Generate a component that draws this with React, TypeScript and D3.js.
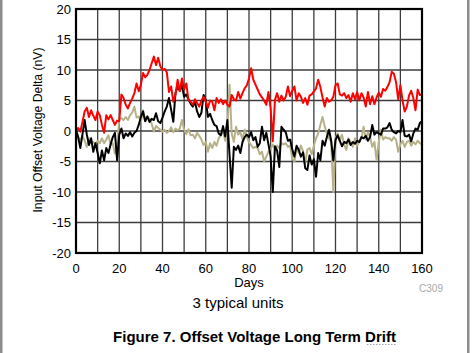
import React from 'react';
import * as d3 from 'd3';

// Values per day (day index 0..160), in nV
const redUnit = [
  0, 0.5, -0.1, 1.5, 3.2, 3.8, 2.3, 3.4, 2.5, 1.8,
  3.2, 2.6, 1.0, -0.3, 2.6, 1.9, 2.6, 1.8, 1.0, 1.7,
  1.6, 6.0, 5.4, 4.3, 3.7, 4.6, 5.3, 6.2, 7.8, 6.5,
  7.6, 9.5, 8.8, 9.2, 10.0, 11.1, 12.2, 10.8, 12.0, 10.6,
  10.0, 10.2, 9.6, 6.4, 7.3, 4.8, 6.0, 8.4, 6.5, 8.6,
  6.8, 7.8, 5.1, 4.8, 4.3, 5.2, 4.6, 4.0, 5.0, 5.6,
  4.8, 3.8, 5.0, 4.8, 3.4, 5.4, 4.6, 5.2, 4.4, 5.0,
  4.3, 4.0, 5.9, 5.2, 5.0, 6.4, 5.3, 6.2, 7.0, 7.5,
  8.6, 10.3, 8.4, 7.6, 6.8, 6.0, 5.5, 5.0, 4.3, 6.4,
  3.7, -1.7, 5.1, 6.2, 4.8, 5.8, 5.0, 5.6, 7.3, 5.7,
  6.6, 7.3, 5.0, 6.2, 5.6, 4.6, 5.4, 4.3, 5.8, 6.0,
  6.5, 7.0, 8.4, 7.2, 5.5, 4.0, 5.4, 4.8, 5.0, 5.6,
  7.5, 7.8, 6.0, 5.8, 6.2, 5.4, 5.9, 4.8, 6.2, 5.2,
  6.4, 5.0, 6.2, 5.5, 4.0, 6.4, 4.4, 5.7, 4.4, 5.5,
  6.3, 5.6, 6.9, 6.6, 7.2, 8.0, 9.7, 9.4, 8.0, 5.2,
  7.5, 5.0, 3.2, 4.0, 5.8, 6.6, 5.4, 3.4, 6.8, 5.9,
  6.0,
];

const blackUnit = [
  0.2, -1.0, -2.8, -0.5, 1.8, -0.6, -2.3, -1.2, -3.4, -2.0,
  -3.6, -5.3, -3.2, -4.8, -2.8, -3.6, -2.2, -1.0, -0.3, -4.8,
  -0.6, 0.4, -1.2, -0.4, -0.8, -0.2, -0.9, -0.3, 0.0, 1.0,
  2.3, 3.2, 1.6, 2.4, 1.5, 2.0, 1.8, 2.9, 1.6, 1.3,
  2.2, 3.2, 4.0, 5.4, 3.5, 1.5, 6.2, 7.3, 6.6, 7.5,
  5.6, 6.0, 5.2, 4.5, 4.0, 4.8, 3.2, 2.3, 3.0, 5.9,
  5.1, 2.3, 2.8, 1.8, 1.0, 0.8, -0.4, -0.7, 0.8, -0.9,
  1.8, -3.9, -9.3, -2.6, -3.1, -2.4, -3.6, -1.8, -1.0, -0.6,
  -1.0, -0.2, -1.5, -1.0, -2.6, -2.0, 0.7, -1.5, -0.3, -2.2,
  -4.2, -10.0, -2.5, -3.2, -5.9, 0.7, 0.2, -0.2, -1.6, -1.4,
  -3.0, -4.2, -2.4, -3.1, -4.2, -3.5, -6.1, -6.4, -4.0, -5.5,
  -4.6, -7.5, -3.6, -4.8, -1.6, -2.4, -1.0, 0.2, -1.6, -4.8,
  -1.5, -0.7, -1.6, -2.5, -1.8, -2.0, -1.4, -2.3, -1.8, -2.1,
  -1.6, -1.8, -1.0, -1.2, -0.8, -1.6, -1.0, 1.0, -0.6, -0.2,
  -0.4, -0.6, 0.4, 0.4, 0.6, 1.3, 0.2, -0.2, -0.4, 0.0,
  -0.2, 1.8, -0.8, -0.9, -0.6, -1.7, -0.4, 0.4, 0.2, 1.3,
  1.6,
];

const oliveUnit = [
  0, -1.0, -1.5, -0.8, -1.6, -2.6, -1.2, -2.0, -1.8, -2.2,
  -1.6, -2.0, -1.2, -2.0, -1.4, -0.7, -2.3, -2.0, -3.7, -2.8,
  2.0, 2.1, 1.8, 2.3, 1.8, 2.6, 3.0, 4.0, 2.2, 2.4,
  1.5, 3.4, 1.6, 2.3, 2.0, 1.2, -0.1, 0.8, 0.5, 0.2,
  -0.1, 0.2, -0.3, 0.0, 0.6, -0.2, 0.4, 0.1, 0.4, 1.8,
  0.2, -0.5, 0.3, -0.7, -0.6, -1.2, -0.3, -0.8, -1.4, -2.3,
  -1.8, -3.4, -2.0, -2.8, -1.8, -2.4, -1.2, -0.6, 0.0, -1.6,
  0.4, 7.6, -0.4, -1.8, 0.7, -0.6, -0.2, -1.4, 0.2, -1.0,
  -1.8, -2.3, -2.8, -2.6, -2.8, -3.8, -3.4, -5.0, -4.2, -3.4,
  -3.0, -2.2, -3.0, -2.4, -2.8, -2.0, -2.2, -2.0, -2.6, -2.4,
  -4.5, -5.0, -2.8, -3.6, -2.4, -3.3, -5.3, -3.0, -2.8, -3.8,
  -2.4, -1.2, -0.4, 1.0, 2.3, 0.8, -0.4, -1.2, -1.8, -10.0,
  -1.2, -0.4, -1.6, -0.6, -2.2, -3.1, -1.2, -1.8, -2.6, -1.2,
  -2.4, -1.8, -1.2, 0.7, -1.4, -0.2, -1.0, -2.6, -1.8, -4.8,
  -1.8, 0.2, -1.4, -1.0, -1.2, -1.2, -1.6, -1.0, -1.4, -3.4,
  -2.2, -1.6, -2.6, -1.8, -1.6, -2.4, -1.8, -2.2, -1.6, -2.0,
  -2.2,
];

const xTicks = [0, 20, 40, 60, 80, 100, 120, 140, 160];
const yTicks = [-20, -15, -10, -5, 0, 5, 10, 15, 20];
const xGrid = [10, 20, 30, 40, 50, 60, 70, 80, 90, 100, 110, 120, 130, 140, 150];

const W = 474;
const H = 353;
const L = 76, R = 422, T = 9, B = 253;
const FONT = "'Liberation Sans', Arial, sans-serif";

export default function App() {
  const x = d3.scaleLinear().domain([0, 160]).range([L, R]);
  const y = d3.scaleLinear().domain([-20, 20]).range([B, T]);
  const line = d3
    .line<number>()
    .x((_, i) => x(i))
    .y((d) => y(d));

  const series = [
    { data: oliveUnit, color: '#b6b189' },
    { data: blackUnit, color: '#000000' },
    { data: redUnit, color: '#ff0000' },
  ];

  return (
    <svg
      width={W}
      height={H}
      style={{ position: 'absolute', left: 0, top: 0, background: '#fff' }}
      fontFamily={FONT}
    >
      <rect x={0} y={0} width={W} height={H} fill="#fff" />
      {/* page edges */}
      <rect x={0} y={0} width={2.5} height={H} fill="#8c8c8c" />
      <rect x={467} y={0} width={2.5} height={H} fill="#8c8c8c" />

      {/* grid */}
      {xGrid.map((t) => (
        <line key={'gx' + t} x1={x(t)} x2={x(t)} y1={T} y2={B} stroke="#3c3c3c" strokeWidth={1.3} />
      ))}
      {yTicks.map((t) => (
        <line key={'gy' + t} x1={L} x2={R} y1={y(t)} y2={y(t)} stroke="#3c3c3c" strokeWidth={1.3} />
      ))}

      {/* series */}
      {series.map((s, k) => (
        <path
          key={k}
          d={line(s.data) || ''}
          fill="none"
          stroke={s.color}
          strokeWidth={2}
          strokeLinejoin="round"
        />
      ))}

      {/* frame */}
      <rect x={L} y={T} width={R - L} height={B - T} fill="none" stroke="#000" strokeWidth={2.2} />

      {/* y tick labels */}
      {yTicks.map((t) => (
        <text key={'yl' + t} x={71} y={y(t)} dy="0.35em" textAnchor="end" fontSize={13} fill="#000">
          {t}
        </text>
      ))}
      {/* x tick labels */}
      {xTicks.map((t) => (
        <text key={'xl' + t} x={x(t)} y={273} textAnchor="middle" fontSize={13} fill="#000">
          {t}
        </text>
      ))}

      <text x={249} y={287} textAnchor="middle" fontSize={13} fill="#000">Days</text>
      <text x={431} y={292} textAnchor="middle" fontSize={10} fill="#a9a9a9">C309</text>
      <text
        transform={`translate(41.5,130) rotate(-90)`}
        textAnchor="middle"
        fontSize={12.2}
        fill="#000"
      >
        Input Offset Voltage Delta (nV)
      </text>
      <text x={238} y={308} textAnchor="middle" fontSize={15} fill="#000">3 typical units</text>
      <text x={254.5} y={342} textAnchor="middle" fontSize={15} fontWeight="bold" fill="#000">
        Figure 7. Offset Voltage Long Term Drift
      </text>
      <line x1={367} x2={397} y1={344.5} y2={344.5} stroke="#9aa4b0" strokeWidth={1} strokeDasharray="1.5,1.5" />
    </svg>
  );
}
